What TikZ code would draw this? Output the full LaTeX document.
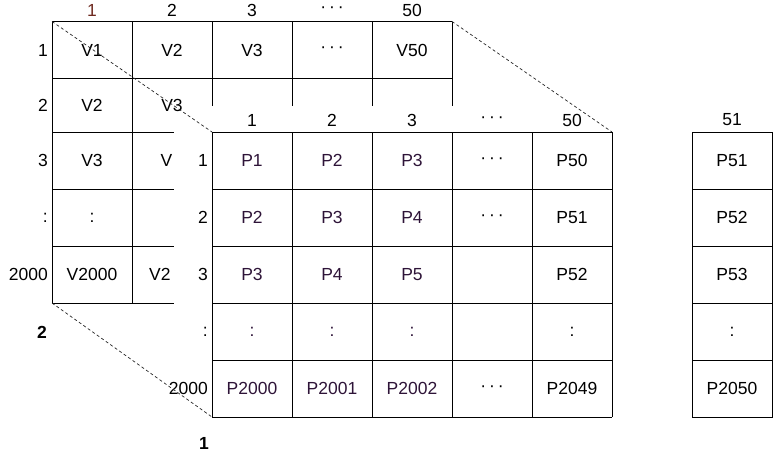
\documentclass[tikz,border=0pt]{standalone}
\usepackage{fontspec}
\setmainfont{Liberation Sans}
\usetikzlibrary{positioning}
\definecolor{hdred}{HTML}{6E2A20}
\definecolor{cellpurple}{HTML}{2E1438}
\newcommand{\middots}{\textperiodcentered\hspace{3pt}\textperiodcentered\hspace{3pt}\textperiodcentered}
\tikzset{x=1pt, y=-1pt, % pixel grid, y downwards
every node/.style={ % Sets the properties for each text
font=\fontsize{17.5}{20}\selectfont,
inner sep=0pt},
grid/.style={line width=0.8pt}, % cell borders
guide/.style={ % projection lines between tables
dash pattern=on 3pt off 2.5pt,
line width=0.7pt,
black!85},
rowlab/.style={anchor=east},
bigmark/.style={font=\fontsize{17.5}{20}\selectfont\bfseries}}

\begin{document}
\begin{tikzpicture}
\useasboundingbox (0,0) rectangle (778,458);
% table corners
\coordinate (vnw) at (52,21.5);
\coordinate (vne) at (452,21.5);
\coordinate (vsw) at (52,303);
\coordinate (pnw) at (212,132);
\coordinate (pne) at (612,132);
\coordinate (psw) at (212,417);
% back table
\draw[grid] (vnw) -- (vne) (52,78.5) -- (452,78.5);
\foreach \y in {132,189,246,303} \draw[grid] (52,\y) -- (174,\y);
\draw[grid] (vnw) -- (vsw) (132,21.5) -- (132,303);
\foreach \x in {212,292,372,452} \draw[grid] (\x,21.5) -- (\x,106);
\node[text=hdred] (vh1) at (92,10) {1};
\foreach \t [count=\c from 2] in {2,3,\middots,50}
  \node (vh\c) at (12+80*\c,10) {\t};
\foreach \t/\y [count=\r] in {1/50,2/105.25,3/160.5,:/217.5,2000/274.5}
  \node[rowlab] (vr\r) at (48,\y) {\t};
\foreach \t [count=\c] in {V1,V2,V3,\middots,V50}
  \node (v1\c) at (12+80*\c,50) {\t};
\node (v21) at (92,105.25) {V2};
\node (v22) at (172,105.25) {V3};
\node (v31) at (92,160.5) {V3};
\node[anchor=west] (v32) at (160.5,160.5) {V};
\node (v41) at (92,217.5) {:};
\node (v51) at (92,274.5) {V2000};
\node[anchor=west] (v52) at (149,274.5) {V2};
\node[bigmark] (vmark) at (42,332) {2};
% front table
\foreach \y in {132,189,246,303,360,417} \draw[grid] (212,\y) -- (612,\y);
\foreach \x in {212,292,372,452,532,612} \draw[grid] (\x,132) -- (\x,417);
\draw[grid] (692,132) rectangle (772,417);
\foreach \y in {189,246,303,360} \draw[grid] (692,\y) -- (772,\y);
\foreach \t [count=\c] in {1,2,3,\middots,50}
  \node (ph\c) at (172+80*\c,120) {\t};
\node (ph51) at (732,120) {51};
\foreach \t/\y [count=\r] in {1/160.5,2/217.5,3/274.5,:/331.5,2000/388.5}
  \node[rowlab] (pr\r) at (208,\y) {\t};
\foreach \a/\b/\c/\d/\e/\f/\y [count=\r] in {
  P1/P2/P3/\middots/P50/P51/160.5,
  P2/P3/P4/\middots/P51/P52/217.5,
  P3/P4/P5//P52/P53/274.5,
  :/:/://:/:/331.5,
  P2000/P2001/P2002/\middots/P2049/P2050/388.5}
{
  \node[text=cellpurple] (p\r1) at (252,\y) {\a};
  \node[text=cellpurple] (p\r2) at (332,\y) {\b};
  \node[text=cellpurple] (p\r3) at (412,\y) {\c};
  \node (p\r4) at (492,\y) {\d};
  \node (p\r5) at (572,\y) {\e};
  \node (p\r6) at (732,\y) {\f};
}
\node[bigmark] (pmark) at (204,443) {1};
% projection lines
\draw[guide] (vnw) -- (pnw);
\draw[guide] (vne) -- (pne);
\draw[guide] (vsw) -- (psw);
\end{tikzpicture}
\end{document}
